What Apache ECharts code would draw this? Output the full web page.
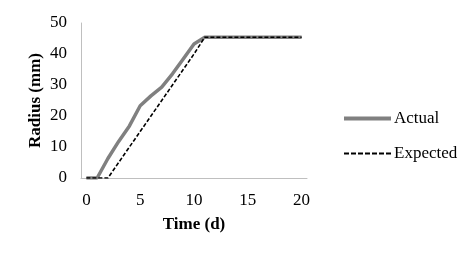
<!DOCTYPE html>
<html>
<head>
<meta charset="utf-8">
<script src="https://cdn.jsdelivr.net/npm/echarts@6/dist/echarts.min.js"></script>
<style>
  html, body { margin: 0; padding: 0; background: #fff; }
  #chart { width: 474px; height: 257px; }
</style>
</head>
<body>
<div id="chart"></div>
<script>
// 时间 (d)
var days = [0, 1, 2, 3, 4, 5, 6, 7, 8, 9, 10, 11, 12, 13, 14, 15, 16, 17, 18, 19, 20];
var actual = [0, 0, 6.3, 11.8, 16.8, 23.3, 26.5, 29.3, 33.6, 38.4, 43.2, 45.4, 45.4, 45.4, 45.4, 45.4, 45.4, 45.4, 45.4, 45.4, 45.4];
var expected = [0, 0, 0, 5, 10, 15, 20, 25, 30, 35, 40, 45.4, 45.4, 45.4, 45.4, 45.4, 45.4, 45.4, 45.4, 45.4, 45.4];
var yTicks = [0, 10, 20, 30, 40, 50];

var font = "'Liberation Serif', 'Times New Roman', serif";
var myChart = echarts.init(document.getElementById("chart"));

var option = {
  animation: false,
  textStyle: { fontFamily: font },
  grid: {
    left: 81,
    right: 167,
    top: 23,
    bottom: 79,
  },
  legend: {
    orient: "vertical",
    left: 337,
    top: 105,
    itemWidth: 47,
    itemHeight: 14,
    itemGap: 18,
    selectedMode: false,
    itemStyle: { opacity: 0 }, //只保留线段
    textStyle: { fontFamily: font, fontSize: 17, color: "#000", padding: [0, 0, 0, -2] },
    data: [
      { name: "Actual", lineStyle: { width: 4, color: "#808080" } },
      { name: "Expected", lineStyle: { width: 2, color: "#000", type: [5, 2] } },
    ],
  },
  xAxis: {
    type: "category",
    boundaryGap: true,
    data: days,
    name: "Time (d)",
    nameLocation: "middle",
    nameGap: 38,
    nameTextStyle: { fontFamily: font, fontSize: 17, fontWeight: "bold", color: "#000" },
    axisLine: { lineStyle: { color: "#bfbfbf", width: 1 } },
    axisTick: { show: false },
    axisLabel: {
      interval: 4,
      margin: 14,
      fontFamily: font,
      fontSize: 17,
      color: "#000",
    },
    splitLine: { show: false },
  },
  yAxis: {
    type: "value",
    min: yTicks[0],
    max: yTicks[yTicks.length - 1],
    interval: 10,
    name: "Radius (mm)",
    nameLocation: "middle",
    nameGap: 37,
    nameTextStyle: { fontFamily: font, fontSize: 17, fontWeight: "bold", color: "#000" },
    axisLine: { show: true, lineStyle: { color: "#bfbfbf", width: 1 } },
    axisTick: { show: false },
    axisLabel: { margin: 14, fontFamily: font, fontSize: 17, color: "#000" },
    splitLine: { show: false },
  },
  series: [
    {
      name: "Actual",
      type: "line",
      data: actual,
      symbol: "none",
      color: "#808080",
      lineStyle: { color: "#808080", width: 3.5 },
    },
    {
      name: "Expected",
      type: "line",
      data: expected,
      symbol: "none",
      color: "#000",
      lineStyle: { color: "#000", width: 1.6, type: [4, 2] },
    },
  ],
};

myChart.setOption(option);
</script>
</body>
</html>
